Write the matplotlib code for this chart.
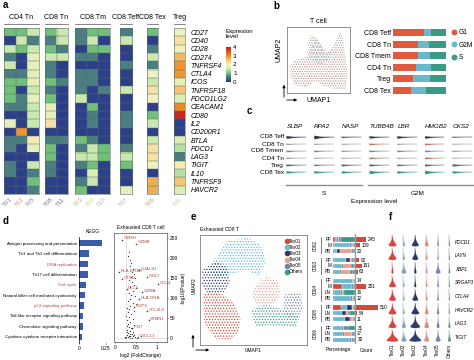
import numpy as np
import matplotlib
matplotlib.use("Agg")
import matplotlib.pyplot as plt
from matplotlib.colors import LinearSegmentedColormap, Normalize
from matplotlib.cm import ScalarMappable
from matplotlib.patches import Polygon
from matplotlib.lines import Line2D

plt.rcParams['font.family'] = ['Liberation Sans', 'DejaVu Sans']
plt.rcParams['hatch.linewidth'] = 0.6

W, H = 474, 360
fig = plt.figure(figsize=(W / 100, H / 100), dpi=100)


def axpx(x0, y0, x1, y1):
    return fig.add_axes([x0 / W, 1 - y1 / H, (x1 - x0) / W, (y1 - y0) / H])


def ftext(x, y, s, **kw):
    fig.text(x / W, 1 - y / H, s, **kw)


def arrow(x0, y0, x1, y1):
    fig.add_artist(matplotlib.patches.FancyArrowPatch(
        (x0 / W, 1 - y0 / H), (x1 / W, 1 - y1 / H), transform=fig.transFigure,
        arrowstyle='-|>', mutation_scale=4, lw=0.6, color='black'))


# ---------------- panel a data ----------------
genes_a = ["CD27", "CD40", "CD28", "CD274", "TNFRSF4", "CTLA4", "ICOS", "TNFRSF18",
           "PDCD1LG2", "CEACAM1", "CD80", "IL2", "CD200R1", "BTLA", "PDCD1", "LAG3",
           "TIGIT", "IL10", "TNFRSF9", "HAVCR2"]
samples_a = ["T01", "T02", "T05", "T08", "T11", "T03", "T04", "T10", "T07", "T06", "T09"]
sample_colors = ["#7d7d9c", "#c99a5c", "#8c8ca4", "#8d6c9c", "#676781", "#b9b873",
                 "#d9d86e", "#b3abcb", "#b3abbd", "#c9a163", "#b7d98f"]
groups_a = ["CD4 Tn", "CD8 Tn", "CD8 Tm", "CD8 Teff", "CD8 Tex", "Treg"]
group_sizes = [3, 2, 3, 1, 1, 1]
expr = [
    [1.0, 1.0, 1.5, 1.0, 1.5, 0.6, 1.0, 1.0, 0.6, 1.0, 1.9],
    [0.1, 1.5, 0.6, 0.6, 1.5, 0.6, 1.5, 0.1, 1.5, 0.1, 2.2],
    [1.5, 1.0, 1.5, 1.0, 0.6, 0.1, 1.0, 1.0, 0.1, 0.6, 1.9],
    [0.6, 0.1, 1.8, 1.5, 1.5, 0.6, 0.6, 0.1, 0.1, 1.5, 2.6],
    [1.5, 0.1, 1.8, 0.6, 0.1, 0.1, 0.1, 0.1, 0.6, 0.6, 2.9],
    [0.6, 0.6, 1.8, 0.6, 0.1, 0.6, 0.6, 0.1, 0.1, 1.9, 2.9],
    [1.0, 1.0, 1.8, 1.0, 0.6, 0.6, 0.6, 0.1, 0.1, 1.5, 1.8],
    [1.0, 0.1, 1.5, 0.6, 0.1, 0.6, 0.1, 0.6, 1.5, 2.2, 2.5],
    [1.0, 0.6, 1.8, 1.0, 0.1, 1.5, 0.1, 0.1, 0.1, 1.9, 1.7],
    [0.6, 0.6, 1.5, 1.8, 0.1, 0.1, 1.0, 0.1, 0.1, 0.1, 3.0],
    [0.1, 0.1, 1.5, 1.8, 0.1, 0.1, 0.6, 0.1, 0.6, 1.0, 3.9],
    [1.8, 0.1, 1.5, 2.2, 0.1, 0.1, 0.6, 0.1, 0.6, 1.5, 0.1],
    [0.1, 2.9, 0.1, 0.1, 0.1, 0.1, 0.1, 0.1, 0.1, 0.1, 0.1],
    [0.6, 0.6, 2.1, 0.6, 0.6, 1.0, 0.6, 0.1, 0.1, 1.5, 1.7],
    [0.6, 0.1, 1.8, 1.0, 0.1, 0.6, 1.5, 1.0, 0.6, 2.2, 1.4],
    [0.1, 0.1, 0.1, 1.0, 0.1, 1.5, 1.5, 1.0, 1.5, 2.2, 0.6],
    [0.6, 0.1, 1.5, 0.6, 0.1, 0.6, 1.0, 0.1, 1.0, 1.9, 2.1],
    [0.6, 0.1, 0.6, 0.6, 0.1, 0.1, 1.7, 0.1, 0.1, 0.1, 1.4],
    [0.1, 0.1, 1.0, 0.1, 0.1, 0.6, 1.5, 0.1, 0.1, 2.7, 2.5],
    [0.1, 0.1, 0.6, 0.1, 0.1, 1.0, 0.1, 0.1, 1.8, 2.7, 1.7],
]

# ---------------- panel b data ----------------
cells_b = ["CD8 Teff", "CD8 Tn", "CD8 Tmem", "CD4 Tn", "Treg", "CD8 Tex"]
g1_frac = [0.58, 0.48, 0.47, 0.44, 0.37, 0.34]
g2m_frac = [0.14, 0.20, 0.22, 0.27, 0.32, 0.28]
s_frac = [0.28, 0.32, 0.31, 0.29, 0.31, 0.38]
phase_names = ["G1", "G2M", "S"]
phase_colors = ["#df5a3e", "#6bb8cc", "#3a9a83"]
umap_b_x = [0.6, 1.2, 3.0, 4.5, 6.0, 7.5, 9.3, 9.6, 9.2, 8.8, 8.3, 7.8, 7.0, 6.2, 5.5, 4.5, 3.8, 3.2, 3.5, 2.5, 1.2, 0.5]
umap_b_y = [2.5, 1.2, 0.8, 1.8, 1.0, 0.6, 0.5, 3.0, 6.0, 8.8, 9.3, 8.0, 6.5, 6.0, 7.2, 8.5, 8.8, 7.5, 6.0, 5.2, 5.0, 4.0]
umap_b2_x = [3.6, 4.5, 5.5, 6.4, 7.2, 6.5, 5.4, 4.4, 3.8]
umap_b2_y = [6.2, 8.4, 7.3, 6.1, 6.8, 4.8, 4.2, 4.6, 5.2]

# ---------------- panel c data ----------------
genes_c = ["SLBP", "RPA2", "NASP", "TUBB4B", "LBR", "HMGB2", "CKS2"]
cells_c = ["CD8 Teff", "CD8 Tn", "CD8 Tmem", "CD4 Tn", "Treg", "CD8 Tex"]
vio_c = [
    [0.35, 0.45, 0.12, 0.30, 0.30, 0.30, 0.08],
    [0.15, 0.12, 0.10, 0.20, 0.12, 0.20, 0.08],
    [0.20, 0.20, 0.12, 0.20, 0.20, 0.20, 0.10],
    [0.15, 0.12, 0.10, 0.20, 0.12, 0.20, 0.08],
    [0.25, 0.15, 0.25, 0.25, 0.20, 0.25, 0.30],
    [0.30, 0.30, 0.30, 0.45, 0.30, 0.45, 0.30],
]
vio_c_col = [
    ["#35384a"] * 7,
    ["#9a9a9a", "#9a9a9a", "#9a9a9a", "#c47060", "#9a9a9a", "#c47060", "#9a9a9a"],
    ["#7a8c90"] * 7,
    ["#9a9a9a", "#9a9a9a", "#9a9a9a", "#b07868", "#9a9a9a", "#b07868", "#9a9a9a"],
    ["#5f6672"] * 7,
    ["#3a9a83"] * 7,
]
phase_groups_c = ["S", "G2M"]

# ---------------- panel d data ----------------
kegg_terms = ["Antigen processing and presentation", "Th1 and Th2 cell differentiation",
              "DNA replication", "Th17 cell differentiation", "Cell cycle",
              "Natural killer cell mediated cytotoxicity", "p53 signaling pathway",
              "Toll-like receptor signaling pathway", "Chemokine signaling pathway",
              "Cytokine-cytokine receptor interaction"]
kegg_vals = [0.21, 0.09, 0.085, 0.085, 0.065, 0.055, 0.05, 0.04, 0.04, 0.03]
kegg_red = [False, False, True, False, True, False, True, False, False, False]

volc_x = [0.33, 0.30, 0.36, 0.38, 0.35, 0.42, 0.40, 0.45, 0.38, 0.47, 0.33, 0.40, 0.44, 0.36,
          0.50, 0.42, 0.32, 0.38, 0.46, 0.35, 0.30, 0.42, 0.50, 0.36, 0.28, 0.33, 0.44, 0.30,
          0.38, 0.26, 0.32, 0.41, 0.28, 0.35, 0.30, 0.44, 0.27, 0.33, 0.38, 0.29, 0.36, 0.42,
          0.27, 0.31, 0.34, 0.39, 0.45, 0.28, 0.32, 0.36, 0.41, 0.48, 0.26, 0.30, 0.35, 0.40,
          0.55, 0.60, 0.24, 0.22]
volc_y = [215, 205, 195, 188, 180, 172, 165, 160, 152, 150, 145, 140, 132, 128,
          125, 118, 112, 108, 104, 98, 92, 88, 84, 80, 76, 72, 68, 64,
          60, 56, 52, 48, 44, 40, 36, 33, 30, 27, 24, 21, 18, 16,
          14, 12, 10, 9, 8, 7, 6, 5, 4, 3, 2, 2, 1, 1,
          2, 4, 3, 1]
volc_genes = ["GZMH", "GZMB", "HLA-DRB5", "LGALS1", "GNLY", "CTSD", "CCL4", "CCL5",
              "GZMA", "HLA-DRA", "SOPX", "CCL4L2", "STMN1", "IFI27", "CXCL13"]
volc_gx = [0.16, 0.50, 0.09, 0.57, 0.76, 0.16, 1.02, 0.27, 0.64, 0.57, 0.45, 0.76, 0.80, 0.40, 0.52]
volc_gy = [246, 236, 165, 170, 152, 147, 135, 123, 115, 98, 78, 68, 45, 25, 1]

# ---------------- panel e data ----------------
tex_names = ["Tex01", "Tex02", "Tex03", "Tex04", "Tex05", "Others"]
tex_colors = ["#d24a3a", "#6bb8cc", "#2b3a6c", "#e6a090", "#7680a2", "#3a9a83"]
umap_e = {
    "Tex02": ([1.2, 2.5, 4.5, 5.8, 6.2, 5.5, 4.2, 2.8, 1.5, 0.9], [7.5, 9.4, 9.8, 9.0, 7.5, 6.3, 6.8, 6.4, 6.2, 6.8]),
    "Tex03": ([0.2, 1.5, 2.6, 2.8, 2.2, 0.8, 0.2], [6.8, 7.6, 7.0, 5.6, 4.8, 4.6, 5.4]),
    "Tex01": ([0.3, 1.8, 3.0, 3.8, 3.6, 2.8, 1.4, 0.4], [4.6, 4.8, 4.0, 2.5, 1.2, 0.5, 0.6, 2.0]),
    "Tex04": ([5.0, 6.2, 7.4, 7.5, 6.6, 5.4, 4.9], [5.2, 6.2, 5.8, 4.4, 3.5, 3.6, 4.4]),
    "Tex05": ([7.9, 9.4, 9.6, 9.2, 8.2, 7.8], [4.6, 4.7, 3.2, 2.3, 2.4, 3.4]),
    "Others": ([4.7, 6.0, 7.6, 9.2, 9.0, 7.0, 5.2], [3.2, 3.6, 3.3, 2.6, 1.6, 1.8, 1.7]),
}
patients = ["C002", "C003", "C004", "C005", "C006"]
tissues = [["PF", "M", "PB"], ["PF", "M", "PB"], ["PF", "M", "LN", "PB"], ["PF", "LN", "PB"], ["PF", "LN", "PB"]]
counts = [[245, 109, 20], [92, 151, 63], [14, 251, 16, 12], [510, 54, 11], [31, 17, 30]]
fracs = [
    [[0.08, 0.10, 0.05, 0.04, 0.08, 0.65], [0.05, 0.70, 0.08, 0.07, 0.05, 0.05], [0.05, 0.15, 0.10, 0.55, 0.10, 0.05]],
    [[0.05, 0.55, 0.15, 0.10, 0.10, 0.05], [0.05, 0.35, 0.05, 0.35, 0.15, 0.05], [0.05, 0.25, 0.05, 0.40, 0.15, 0.10]],
    [[0.02, 0.88, 0.03, 0.03, 0.02, 0.02], [0.40, 0.45, 0.05, 0.03, 0.04, 0.03], [0.05, 0.30, 0.05, 0.05, 0.05, 0.50], [0.03, 0.80, 0.05, 0.05, 0.04, 0.03]],
    [[0.35, 0.30, 0.20, 0.05, 0.05, 0.05], [0.05, 0.35, 0.20, 0.10, 0.05, 0.25], [0.05, 0.50, 0.20, 0.15, 0.05, 0.05]],
    [[0.05, 0.35, 0.05, 0.05, 0.20, 0.30], [0.05, 0.40, 0.05, 0.35, 0.10, 0.05], [0.05, 0.70, 0.05, 0.05, 0.10, 0.05]],
]

# ---------------- panel f data ----------------
genes_f = ["PDCD1", "LAYN", "XBP1", "SRGAP3", "CTLA4", "HAVCR2", "LAG3", "TIGIT"]
vio_f = [
    [4.0, 1.0, 3.5, 2.0, 0.8, 0.6],
    [4.0, 1.0, 3.0, 1.0, 0.5, 0.5],
    [1.0, 2.5, 1.2, 1.0, 2.5, 0.8],
    [3.5, 0.8, 1.0, 0.8, 0.8, 0.5],
    [3.5, 0.8, 3.0, 1.0, 0.8, 0.5],
    [4.0, 0.8, 4.0, 2.0, 1.2, 0.5],
    [4.0, 2.0, 5.0, 2.5, 1.5, 1.0],
    [6.0, 2.5, 6.0, 2.5, 2.5, 1.5],
]
f_colors = ["#d9453a", "#7fa9b6", "#2c3a6e", "#d89088", "#7c84a8", "#5a9a88"]

# =============== PANEL A ===============
cmap = LinearSegmentedColormap.from_list("expr", [
    (0.0, "#27348b"), (0.15, "#4b7f80"), (0.25, "#70c07a"), (0.38, "#cdebb0"),
    (0.5, "#f8f2c2"), (0.62, "#f5c878"), (0.75, "#eb8a22"), (1.0, "#c01f1f")])
expr_arr = np.array(expr)
group_px = [(4, 39), (45, 68), (75, 110), (120, 132), (147, 158), (174, 185)]
c0 = 0
for gi, (gname, n) in enumerate(zip(groups_a, group_sizes)):
    x0, x1 = group_px[gi]
    ax = axpx(x0, 28, x1, 194)
    ax.imshow(expr_arr[:, c0:c0 + n], cmap=cmap, vmin=0, vmax=4, aspect='auto',
              interpolation='nearest', extent=(0, n, len(genes_a), 0))
    for k in range(1, n):
        ax.axvline(k, color="#5a6a6a", lw=0.35)
    for r in range(1, len(genes_a)):
        ax.axhline(r, color="#5a6a6a", lw=0.35)
    ax.set_xlim(0, n)
    ax.set_ylim(len(genes_a), 0)
    ax.set_xticks(np.arange(n) + 0.5)
    labs = ax.set_xticklabels(samples_a[c0:c0 + n], rotation=45, ha='right',
                              rotation_mode='anchor', fontsize=4.5)
    for t, col in zip(labs, sample_colors[c0:c0 + n]):
        t.set_color(col)
    ax.tick_params(length=0, pad=2)
    if gi == len(groups_a) - 1:
        ax.yaxis.tick_right()
        ax.set_yticks(np.arange(len(genes_a)) + 0.5)
        ax.set_yticklabels(genes_a, fontsize=5, style='italic')
        ax.tick_params(axis='y', length=0, pad=4)
    else:
        ax.set_yticks([])
    for s in ax.spines.values():
        s.set_color("#5a6a6a")
        s.set_linewidth(0.4)
    ax.text(0.5, 1.04, gname, transform=ax.transAxes, ha='center', va='bottom', fontsize=5)
    ax.plot([0, 1], [1.025, 1.025], transform=ax.transAxes, color='#555555', lw=0.5, clip_on=False)
    c0 += n

cax = axpx(226, 47, 231, 82)
cb = fig.colorbar(ScalarMappable(norm=Normalize(0, 4), cmap=cmap), cax=cax, ticks=[0, 1, 2, 3, 4])
cb.outline.set_visible(False)
cax.tick_params(labelsize=4.5, length=0, pad=1.5)
ftext(226, 29, "Expresion\nlevel", fontsize=4.5, va='top', ha='left', linespacing=1.1)
ftext(3, 5, "a", fontsize=7, fontweight='bold', va='center')

# =============== PANEL B ===============
ftext(273, 6, "b", fontsize=7, fontweight='bold', va='center')
axu = axpx(287, 27, 350, 93)
axu.set_xlim(0, 10)
axu.set_ylim(0, 10)
axu.set_xticks([])
axu.set_yticks([])
for s in axu.spines.values():
    s.set_color('#666666')
    s.set_linewidth(0.5)
axu.add_patch(Polygon(np.column_stack([umap_b_x, umap_b_y]), closed=True, facecolor='none',
                      edgecolor='#b59a90', hatch='.......', lw=0))
axu.add_patch(Polygon(np.column_stack([umap_b2_x, umap_b2_y]), closed=True, facecolor='none',
                      edgecolor='#9cbcc0', hatch='.....', lw=0))
axu.set_title("T cell", fontsize=5, pad=3)
arrow(284, 100, 284, 82)
arrow(284, 100, 300, 100)
ftext(279, 50, "UMAP2", fontsize=5, rotation=90, ha='center', va='center')
ftext(319, 100, "UMAP1", fontsize=5, ha='center', va='center')

axb = axpx(393, 27, 446, 96)
yb = np.arange(len(cells_b))
axb.barh(yb, g1_frac, color=phase_colors[0], height=0.62)
axb.barh(yb, g2m_frac, left=g1_frac, color=phase_colors[1], height=0.62)
axb.barh(yb, s_frac, left=np.array(g1_frac) + np.array(g2m_frac), color=phase_colors[2], height=0.62)
axb.set_xlim(0, 1)
axb.set_ylim(len(cells_b) - 0.5, -0.5)
axb.set_yticks(yb)
axb.set_yticklabels(cells_b, fontsize=5)
axb.tick_params(length=0, pad=1.5)
axb.set_xticks([])
for s in axb.spines.values():
    s.set_visible(False)
handles = [Line2D([], [], marker='o', ls='', color=c, markersize=3.2) for c in phase_colors]
fig.legend(handles, phase_names, loc='upper left', bbox_to_anchor=(447 / W, 1 - 26 / H),
           frameon=False, fontsize=4.8, handletextpad=0.05, labelspacing=0.8, borderpad=0,
           handlelength=1.2)

# =============== PANEL C ===============
ftext(247, 111, "c", fontsize=7, fontweight='bold', va='center')
step_c = 27.7
axc = axpx(284, 122, 474, 205)
axc.set_xlim(-2 / step_c, 188 / step_c)
axc.set_ylim((205 - 137) / 7, (122 - 137) / 7)
axc.axis('off')
px_prof = np.array([0.0, 0.015, 0.04, 0.1, 0.2, 0.35, 0.55, 0.75])
py_prof = np.array([1.0, 0.3, 0.55, 0.45, 0.25, 0.12, 0.05, 0.0])
L = 0.72
for j, g in enumerate(genes_c):
    axc.text(j + 0.02, -1.57, g, fontsize=4.6, style='italic', ha='left', va='center')
    for i, cname in enumerate(cells_c):
        h = vio_c[i][j]
        col = vio_c_col[i][j]
        axc.plot([j, j + L], [i, i], color=col, lw=0.35)
        xs = j + px_prof
        axc.fill_between(xs, i - h * py_prof, i + h * py_prof, color=col, lw=0)
for i, cname in enumerate(cells_c):
    axc.text(-0.08, i, cname, fontsize=4.6, ha='right', va='center')
yb_c = (185 - 137) / 7
axc.plot([0, 2.75], [yb_c, yb_c], color='#8a8a8a', lw=1.0)
axc.plot([2.95, 6.79], [yb_c, yb_c], color='#8a8a8a', lw=1.0)
axc.text(1.35, (193 - 137) / 7, phase_groups_c[0], fontsize=4.6, ha='center', va='center')
axc.text(4.75, (193 - 137) / 7, phase_groups_c[1], fontsize=4.6, ha='center', va='center')
axc.text(3.2, (201 - 137) / 7, "Expression level", fontsize=4.6, ha='center', va='center')

# =============== PANEL D ===============
ftext(3, 221, "d", fontsize=7, fontweight='bold', va='center')
axd = axpx(79, 237, 106, 343)
yk = np.arange(len(kegg_terms))
axd.barh(yk, kegg_vals, color='#3b5ca8', height=0.62)
axd.set_xlim(0, 0.25)
axd.set_ylim(len(kegg_terms) - 0.4, -0.6)
axd.set_yticks(yk)
tl = axd.set_yticklabels(kegg_terms, fontsize=3.2)
for t, r in zip(tl, kegg_red):
    t.set_color('#b04848' if r else 'black')
axd.tick_params(axis='y', length=0, pad=1.5)
axd.set_xticks([0, 0.25])
axd.set_xticklabels(["0", "0.25"], fontsize=3.5)
axd.tick_params(axis='x', length=1, width=0.4, pad=1)
for k in ['top', 'right', 'bottom']:
    axd.spines[k].set_visible(False)
axd.spines['left'].set_linewidth(0.5)
axd.set_title("KEGG", fontsize=3.5, pad=3)

axv = axpx(114, 233, 167, 342)
axv.set_xlim(-0.03, 1.23)
axv.set_ylim(-10, 262.5)
axv.scatter(volc_x, volc_y, s=0.8, color='#333333', lw=0)
axv.scatter(volc_gx, volc_gy, s=1.2, color='#333333', lw=0)
for g, gx, gy in zip(volc_genes, volc_gx, volc_gy):
    axv.text(gx + 0.03, gy + 3, g, fontsize=3.2, color='#b04848', ha='left', va='center', clip_on=False)
axv.axvline(0.25, color='#999999', lw=0.4, ls=(0, (1, 1)))
axv.axhline(0, color='#999999', lw=0.4, ls=(0, (1, 1)))
axv.yaxis.tick_right()
axv.yaxis.set_label_position('right')
axv.set_yticks([0, 50, 100, 150, 200, 250])
axv.set_xticks([0, 0.5, 1])
axv.set_xticklabels(["0", "0.5", "1"])
axv.tick_params(labelsize=3.5, length=1, width=0.4, pad=1)
axv.set_ylabel("-log10(Pvalue)", fontsize=3.5, labelpad=2)
axv.set_xlabel("log2 (FoldChange)", fontsize=3.5, labelpad=2)
for s in axv.spines.values():
    s.set_linewidth(0.5)
    s.set_color('#555555')
axv.set_title("Exhausted CD8 T cell", fontsize=3.5, pad=3)

# =============== PANEL E ===============
ftext(191, 217, "e", fontsize=7, fontweight='bold', va='center')
axe = axpx(200, 235, 307, 345)
axe.set_xlim(0, 10)
axe.set_ylim(0, 10)
axe.set_xticks([])
axe.set_yticks([])
for s in axe.spines.values():
    s.set_color('#666666')
    s.set_linewidth(0.5)
for name, col in zip(tex_names, tex_colors):
    px_, py_ = umap_e[name]
    axe.add_patch(Polygon(np.column_stack([px_, py_]), closed=True, facecolor='none',
                          edgecolor=col, hatch='......', lw=0))
axe.set_title("Exhausted CD8 T", fontsize=3.5, pad=3, loc='left')
hand_e = [Line2D([], [], marker='o', ls='', color=c, markersize=3.0) for c in tex_colors]
axe.legend(hand_e, tex_names, loc='upper right', fontsize=3.3, frameon=False,
           handletextpad=0.05, labelspacing=0.25, borderpad=0.3, handlelength=1.0)
arrow(193, 350, 193, 332)
arrow(193, 350, 212, 350)
ftext(194, 286, "UMAP2", fontsize=3.5, rotation=90, ha='center', va='center')
ftext(253, 350, "UMAP1", fontsize=3.5, ha='center', va='center')

axs = axpx(333, 234, 381, 344)
scale_px = 22.0
axs.set_xlim(0, 48 / scale_px)
ypos = []
y = 0.0
for gi, tis in enumerate(tissues):
    rows = []
    for _ in tis:
        rows.append(y)
        y += 1
    ypos.append(rows)
    y += 0.5
axs.set_ylim(y - 0.5 - 0.3, -0.9)
for gi, pname in enumerate(patients):
    for ti, tname in enumerate(tissues[gi]):
        yy = ypos[gi][ti]
        left = 0.0
        for k, col in enumerate(tex_colors):
            f = fracs[gi][ti][k]
            axs.barh(yy, f, left=left, color=col, height=0.75, edgecolor='white', lw=0.2)
            left += f
        cw = counts[gi][ti] / 510 * 23 / scale_px
        axs.barh(yy, cw, left=1.0, color=tex_colors[0], height=0.75)
        axs.text(1.0 + cw + 0.06, yy, str(counts[gi][ti]), fontsize=3.3, va='center', ha='left')
        axs.text(-0.09, yy, tname, fontsize=3.3, va='center', ha='right')
    ytop, ybot = ypos[gi][0], ypos[gi][-1]
    axs.plot([-0.55, -0.55], [ytop - 0.35, ybot + 0.35], color='#444444', lw=0.5, clip_on=False)
    axs.text(-0.8, (ytop + ybot) / 2, pname, fontsize=3.3, rotation=90, va='center', ha='center')
axs.axvline(1.0, color='#999999', lw=0.9)
axs.axis('off')
ftext(338, 350, "Percentage", fontsize=3.5, ha='center', va='center')
ftext(366, 350, "Count", fontsize=3.5, ha='center', va='center')

# =============== PANEL F ===============
ftext(389, 217, "f", fontsize=7, fontweight='bold', va='center')
axf = axpx(386, 234, 458, 345)
axf.set_xlim((386 - 392) / 11.4, (458 - 392) / 11.4)
axf.set_ylim((345 - 242) / 13.6, (234 - 242) / 13.6)
axf.axis('off')
t_prof = np.array([0.0, 0.05, 0.15, 0.3, 0.45, 0.6, 0.75, 0.9, 1.0])
w_prof = np.array([0.0, 0.85, 1.0, 0.7, 0.4, 0.2, 0.1, 0.05, 0.0])
for i, g in enumerate(genes_f):
    for j, col in enumerate(f_colors):
        w = vio_f[i][j] / 11.4
        ys = i + 0.3 - t_prof * 0.85
        axf.fill_betweenx(ys, j - w * w_prof, j + w * w_prof, color=col, lw=0)
        axf.plot([j, j], [i + 0.3, i - 0.55], color=col, lw=0.3)
    axf.text(5.5, i, g, fontsize=3.4, style='italic', ha='left', va='center', clip_on=False)
for j, nm in enumerate(tex_names):
    axf.text(j, 7.45, nm, fontsize=3.3, rotation=90, ha='center', va='top', clip_on=False)

fig.savefig("out.png", dpi=100)
